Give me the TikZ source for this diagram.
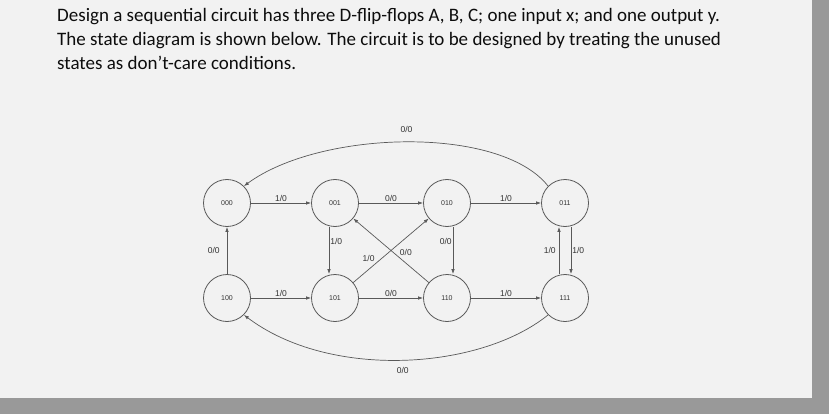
\documentclass[tikz,border=0pt]{standalone}
\usepackage{fontspec}
\setmainfont{Carlito}
\newfontfamily\arialf{Liberation Sans}
\usetikzlibrary{arrows.meta}
\begin{document}
\begin{tikzpicture}[x=1pt,y=-1pt,
  st/.style={circle,draw=black!65,line width=0.8pt,minimum size=47pt,inner sep=0pt,font=\arialf\fontsize{7}{8}\selectfont,text=black!80},
  tr/.style={draw=black!65,line width=0.7pt,-{Latex[length=5pt,width=3.5pt]}},
  lb/.style={font=\arialf\fontsize{8.5}{9}\selectfont,text=black!80,inner sep=1pt}]
\fill[black!40] (0,0) rectangle (829,414);
\fill[black!5] (0,0) rectangle (812,398);
\node[anchor=north west,align=left,font=\fontsize{19}{24}\selectfont,text=black!95,inner sep=0pt] (title) at (57,8)
{Design a sequential circuit has three D-flip-flops A, B, C; one input x; and one output y.\\
The state diagram is shown below. The circuit is to be designed by treating the unused\\
states as don’t-care conditions.};
\node[st] (s000) at (227,203) {000};
\node[st] (s001) at (335,203) {001};
\node[st] (s010) at (447,203) {010};
\node[st] (s011) at (565,203) {011};
\node[st] (s100) at (227,298) {100};
\node[st] (s101) at (335,298) {101};
\node[st] (s110) at (447,298) {110};
\node[st] (s111) at (565,298) {111};
\draw[tr] (s000) -- node[lb,above]{1/0} (s001);
\draw[tr] (s001) -- node[lb,above]{0/0} (s010);
\draw[tr] (s010) -- node[lb,above]{1/0} (s011);
\draw[tr] (s100) -- node[lb,above]{1/0} (s101);
\draw[tr] (s101) -- node[lb,above]{0/0} (s110);
\draw[tr] (s110) -- node[lb,above]{1/0} (s111);
\draw[tr] (s100) -- node[lb,left=6pt]{0/0} (s000);
\draw[tr] ([xshift=-6pt]s001.south) -- node[lb,pos=0.3,right]{1/0} ([xshift=-6pt]s101.north);
\draw[tr] ([xshift=6pt]s010.south) -- node[lb,pos=0.3,left]{0/0} ([xshift=6pt]s110.north);
\draw[tr] ([xshift=-6pt]s111.north) -- node[lb,left=2pt]{1/0} ([xshift=-6pt]s011.south);
\draw[tr] ([xshift=6pt]s011.south) -- node[lb,right]{1/0} ([xshift=6pt]s111.north);
\draw[tr] (s101) -- node[lb,pos=0.3,above left]{1/0} (s010);
\draw[tr] (s110) -- node[lb,pos=0.4,above right]{0/0} (s001);
\draw[tr] (s011.north west) .. controls (500,125) and (320,130) .. (s000.north east) node[lb,pos=0.5,above=8pt]{0/0};
\draw[tr] (s111.south west) .. controls (480,370) and (330,380) .. (s100.south east) node[lb,pos=0.5,below=6pt]{0/0};
\end{tikzpicture}
\end{document}
